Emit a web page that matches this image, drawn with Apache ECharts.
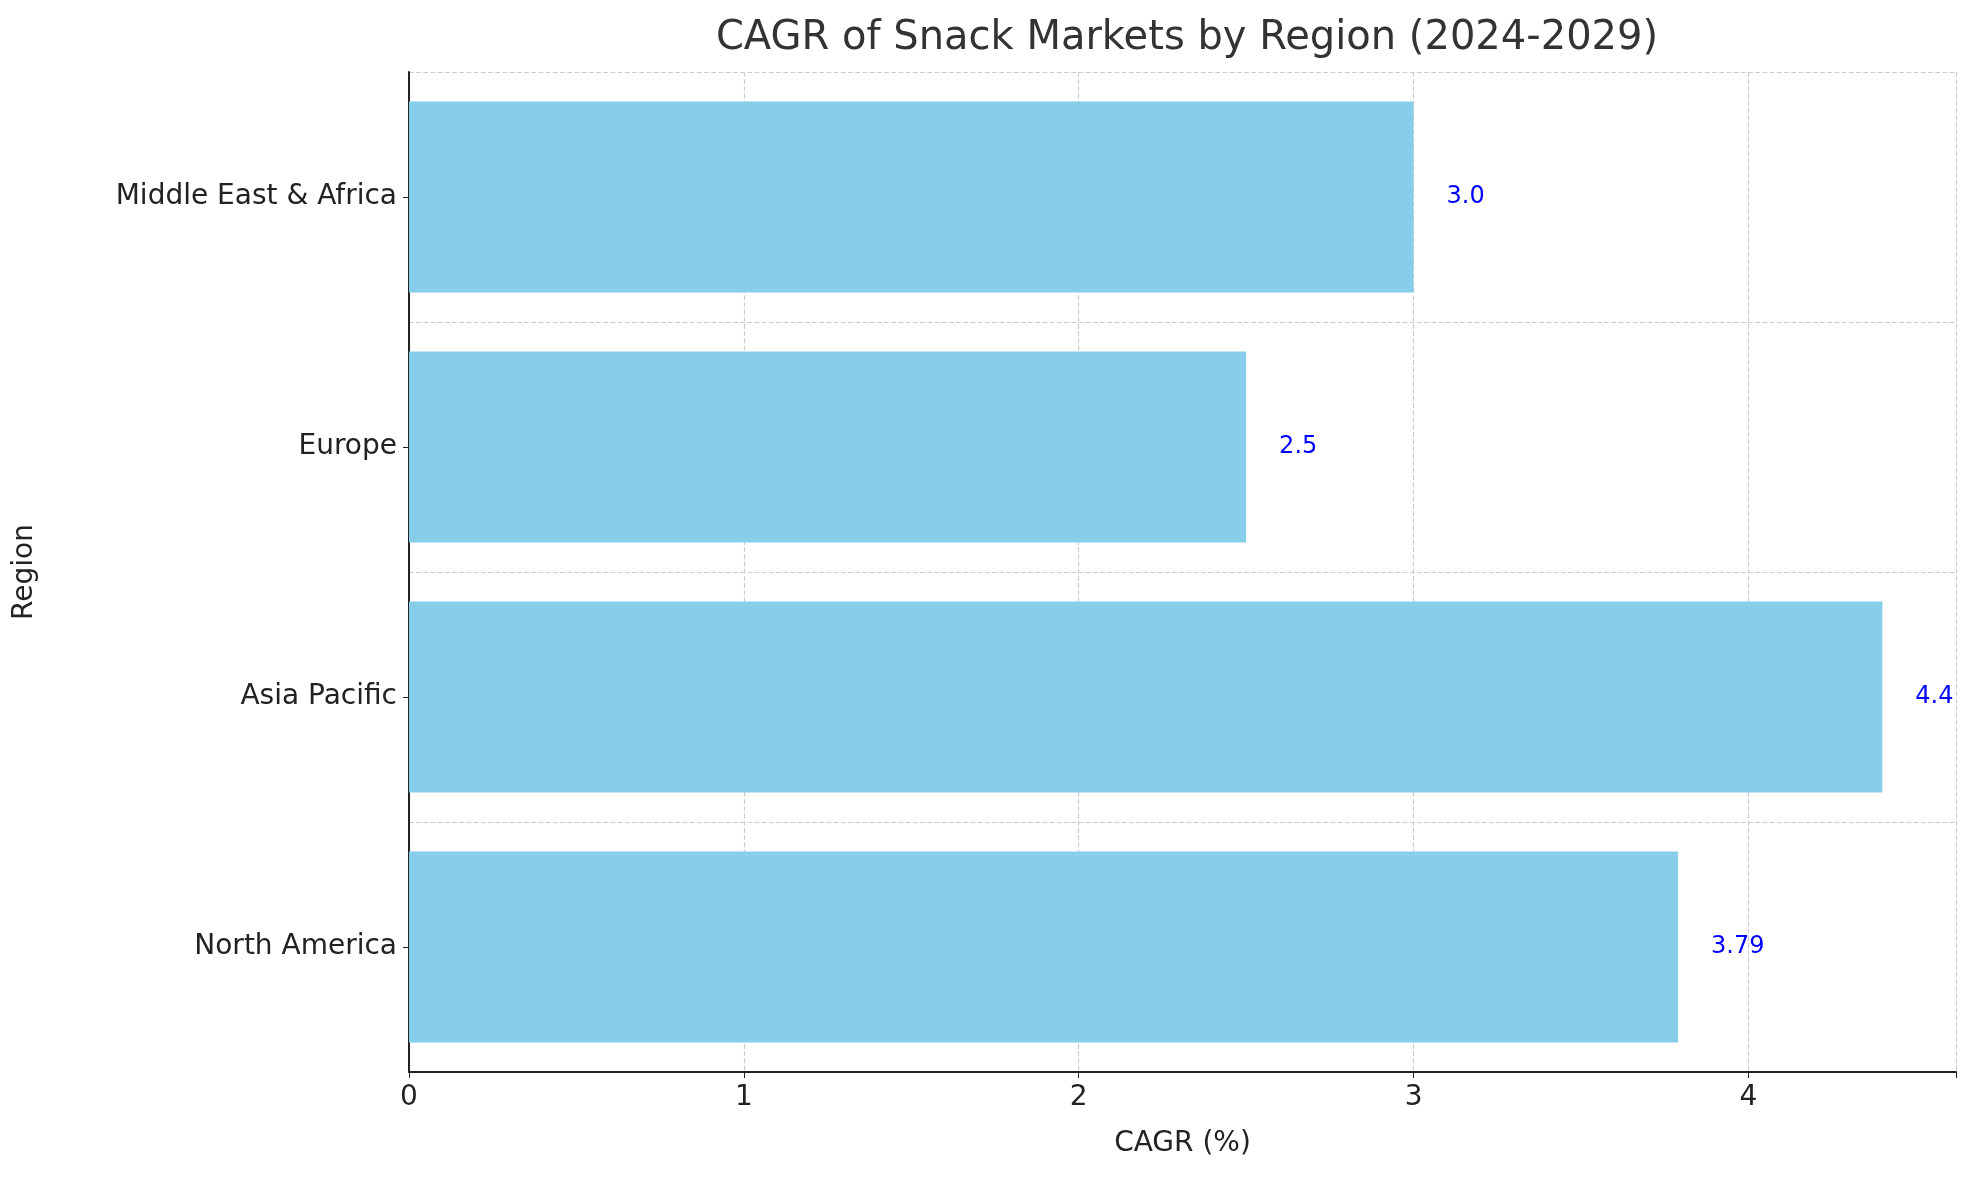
<!DOCTYPE html>
<html><head><meta charset="utf-8">
<script src="https://cdn.jsdelivr.net/npm/echarts@6/dist/echarts.min.js"></script>
<style>html,body{margin:0;padding:0;background:#fff}#c{width:1980px;height:1180px}</style>
</head><body><div id="c"></div>
<script>
const regions = ['North America', 'Asia Pacific', 'Europe', 'Middle East & Africa'];
const cagrValues = [3.79, 4.4, 2.5, 3.0];
const xTicks = [0, 1, 2, 3, 4];

const chart = echarts.init(document.getElementById('c'));
const font = 'DejaVu Sans';
chart.setOption({
  animation: false,
  backgroundColor: '#fff',
  title: {
    text: 'CAGR of Snack Markets by Region (2024-2029)',
    left: 1182, top: 14, textAlign: 'center',
    textStyle: {fontFamily: font, fontSize: 40, fontWeight: 'normal', color: '#333'}
  },
  grid: {left: 409, right: 24, top: 72, bottom: 108},
  xAxis: {
    type: 'value', min: 0, max: 4.62, interval: 1,
    name: 'CAGR (%)', nameLocation: 'middle', nameGap: 58,
    nameTextStyle: {fontFamily: font, fontSize: 28, color: '#222'},
    axisLine: {show: true, lineStyle: {color: '#222', width: 2}},
    axisTick: {show: true, length: 6, lineStyle: {color: '#222'}},
    axisLabel: {fontFamily: font, fontSize: 28, color: '#222', margin: 12,
      formatter: v => xTicks.includes(v) ? String(v) : ''},
    splitLine: {show: true, lineStyle: {color: '#ccc', type: 'dashed', width: 1.2}}
  },
  yAxis: {
    type: 'category', data: regions,
    name: 'Region', nameLocation: 'middle', nameGap: 370, nameRotate: 90,
    nameTextStyle: {fontFamily: font, fontSize: 28, color: '#222'},
    axisLine: {show: true, lineStyle: {color: '#222', width: 2}},
    axisTick: {show: true, alignWithLabel: true, length: 6, lineStyle: {color: '#222'}},
    axisLabel: {fontFamily: font, fontSize: 28, color: '#222', margin: 12},
    splitLine: {show: true, lineStyle: {color: '#ccc', type: 'dashed', width: 1.2}}
  },
  series: [{
    type: 'bar', data: cagrValues, barWidth: 191,
    itemStyle: {color: '#87CEEB'},
    label: {show: true, position: 'right', distance: 33,
      fontFamily: font, fontSize: 24, color: '#0000ff',
      formatter: p => regions[p.dataIndex] === 'North America' ? '3.79' : p.value.toFixed(1)}
  }]
});
</script></body></html>
